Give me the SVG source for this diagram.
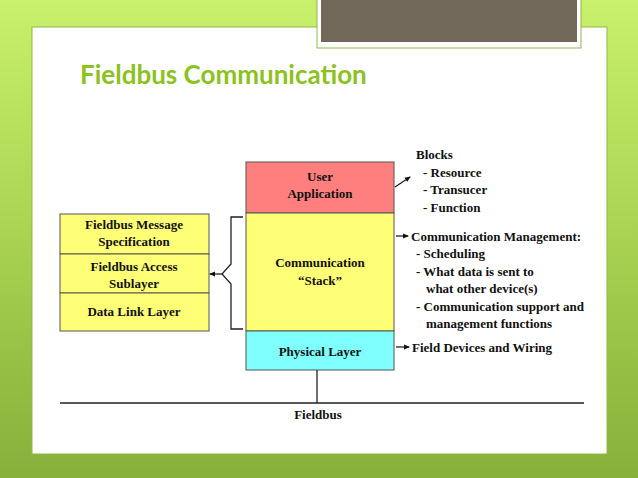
<svg xmlns="http://www.w3.org/2000/svg" width="638" height="478" viewBox="0 0 638 478">
<defs>
<linearGradient id="bg" x1="0" y1="0" x2="0" y2="1"><stop offset="0" stop-color="#c8f06c"/><stop offset="0.5" stop-color="#a8d250"/><stop offset="1" stop-color="#86b03a"/></linearGradient>
<marker id="ah" markerWidth="6" markerHeight="6" refX="5" refY="3" orient="auto" markerUnits="userSpaceOnUse"><path d="M0,0.5 L6,3 L0,5.5 Z" fill="#111"/></marker>
<style>
.box{stroke:#555;stroke-width:1}
.t{font-family:"Liberation Serif",serif;font-weight:bold;font-size:13px;fill:#111}
.c{text-anchor:middle}
.ln{stroke:#222;stroke-width:1.3;fill:none}
</style>
</defs>
<rect width="638" height="478" fill="url(#bg)"/>
<rect x="32" y="27" width="575" height="427" fill="#fff" stroke="#8fb84a" stroke-width="1"/>
<rect x="317" y="-2" width="264" height="50" fill="#fff" stroke="#8fb84a"/>
<rect x="321" y="-2" width="256" height="44" fill="#72685a"/>
<text x="80" y="84" font-family="Lato, 'Open Sans', sans-serif" font-weight="bold" font-size="26" fill="#8cc21e">Fieldbus Communication</text>

<g id="user-app"><rect class="box" x="246" y="162" width="148" height="51" fill="#ff7f7f"/><text class="t c" x="320" y="181">User</text><text class="t c" x="320" y="198">Application</text></g>
<g id="comm-stack"><rect class="box" x="246" y="213" width="148" height="118" fill="#ffff77"/><text class="t c" x="320" y="267">Communication</text><text class="t c" x="320" y="285">“Stack”</text></g>
<g id="physical"><rect class="box" x="246" y="331" width="148" height="39" fill="#80ffff"/><text class="t c" x="320" y="356">Physical Layer</text></g>
<g id="fms"><rect class="box" x="60" y="214" width="149" height="40" fill="#ffff77"/><text class="t c" x="134" y="229">Fieldbus  Message</text><text class="t c" x="134" y="246">Specification</text></g>
<g id="fas"><rect class="box" x="60" y="254" width="149" height="39" fill="#ffff77"/><text class="t c" x="134" y="271">Fieldbus  Access</text><text class="t c" x="134" y="288">Sublayer</text></g>
<g id="dll"><rect class="box" x="60" y="293" width="149" height="38" fill="#ffff77"/><text class="t c" x="134" y="316">Data Link Layer</text></g>

<g id="notes">
<text class="t" x="416" y="159">Blocks</text>
<text class="t" x="423" y="177">- Resource</text>
<text class="t" x="423" y="194">- Transucer</text>
<text class="t" x="423" y="212">- Function</text>
<text class="t" x="411" y="241">Communication Management:</text>
<text class="t" x="416" y="258">- Scheduling</text>
<text class="t" x="416" y="276">- What data is sent to</text>
<text class="t" x="426" y="293">what other device(s)</text>
<text class="t" x="416" y="311">- Communication support and</text>
<text class="t" x="426" y="328">management functions</text>
<text class="t" x="412" y="352">Field Devices and Wiring</text>
<text class="t c" x="318" y="419">Fieldbus</text>
</g>

<g id="connectors">
<path class="ln" d="M243,217 H231 V264 L222,274 L231,284 V329 H243"/>
<line class="ln" x1="222" y1="274" x2="210" y2="274" marker-end="url(#ah)"/>
<line class="ln" x1="395" y1="187" x2="410" y2="177" marker-end="url(#ah)"/>
<line class="ln" x1="396" y1="236" x2="408" y2="236" marker-end="url(#ah)"/>
<line class="ln" x1="396" y1="347" x2="409" y2="347" marker-end="url(#ah)"/>
<line class="ln" x1="317" y1="370" x2="317" y2="403"/>
<line class="ln" x1="60" y1="403" x2="584" y2="403"/>
</g>
</svg>
